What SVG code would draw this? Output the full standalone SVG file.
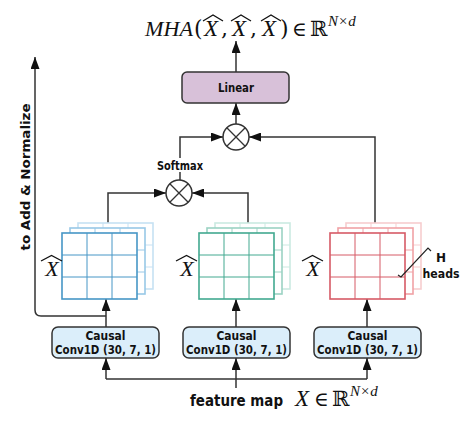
<svg xmlns="http://www.w3.org/2000/svg" width="474" height="424" viewBox="0 0 474 424">
<style>
.ln{fill:none;stroke:#333;stroke-width:1.5}
.lb{font-family:"DejaVu Sans",sans-serif;font-weight:bold;fill:#111}
.mx{font-family:"Liberation Serif",serif;font-style:italic;fill:#111}
.up{font-family:"DejaVu Serif","Liberation Serif",serif;fill:#111}
.hat{fill:none;stroke:#111;stroke-width:1.3}
.box{stroke:#333;stroke-width:1.5}
.cell{fill:#fff;stroke-width:1.6}
</style>
<defs>
<marker id="ah" viewBox="0 0 12 9" refX="12" refY="4.5" markerWidth="13" markerHeight="9" markerUnits="userSpaceOnUse" orient="auto">
<path d="M0,0 L12,4.5 L0,9 Z" fill="#111"/>
</marker>
<g id="grid">
<rect x="0" y="0" width="75" height="66" class="cell"/>
<path d="M25,0V66M50,0V66M0,22H75M0,44H75" fill="none"/>
</g>
</defs>
<rect width="474" height="424" fill="#fff"/>

<g id="title">
<text class="mx" x="145" y="36" font-size="22" textLength="48" lengthAdjust="spacingAndGlyphs">MHA</text>
<text class="up" x="194" y="36" font-size="22" font-family="Liberation Serif">(</text>
<text class="mx" x="204" y="36" font-size="23">X</text>
<text class="up" x="221" y="36" font-size="22" font-family="Liberation Serif">,</text>
<text class="mx" x="232" y="36" font-size="23">X</text>
<text class="up" x="250" y="36" font-size="22" font-family="Liberation Serif">,</text>
<text class="mx" x="262" y="36" font-size="23">X</text>
<text class="up" x="280" y="36" font-size="22" font-family="Liberation Serif">)</text>
<text class="up" x="292" y="36" font-size="20">∈</text>
<text class="up" x="310" y="36" font-size="21">ℝ</text>
<text class="mx" x="328" y="26" font-size="15">N×d</text>
<path class="hat" d="M203,21 L213,15 L223,21 M231,21 L241,15 L251,21 M261,21 L271,15 L281,21"/>
</g>

<g id="connectors">
<path class="ln" d="M236,72 V41" marker-end="url(#ah)"/>
<path class="ln" d="M236,124 V103" marker-end="url(#ah)"/>
<path class="ln" d="M180,158 V137 H223" marker-end="url(#ah)"/>
<path class="ln" d="M180,180 V172"/>
<path class="ln" d="M375,223 V137 H249" marker-end="url(#ah)"/>
<path class="ln" d="M108,223 V193 H166" marker-end="url(#ah)"/>
<path class="ln" d="M248,223 V193 H192" marker-end="url(#ah)"/>
<path class="ln" d="M106,327 V299" marker-end="url(#ah)"/>
<path class="ln" d="M236,327 V299" marker-end="url(#ah)"/>
<path class="ln" d="M367,327 V299" marker-end="url(#ah)"/>
<path class="ln" d="M106,316 H41 Q35,316 35,310 V57" marker-end="url(#ah)"/>
<path class="ln" d="M106,379 V358" marker-end="url(#ah)"/>
<path class="ln" d="M367,379 V358" marker-end="url(#ah)"/>
<path class="ln" d="M106,379 H367"/>
<path class="ln" d="M236,388 V358" marker-end="url(#ah)"/>
</g>

<g id="linear">
<rect class="box" x="182" y="72" width="107" height="31" rx="5" fill="#d8c1d9"/>
<text class="lb" x="236" y="92" font-size="12.5" text-anchor="middle" textLength="36" lengthAdjust="spacingAndGlyphs">Linear</text>
</g>

<g id="mul-top">
<circle cx="236" cy="137" r="13" fill="#fff" stroke="#333" stroke-width="1.5"/>
<path d="M226.8,127.8 L245.2,146.2 M245.2,127.8 L226.8,146.2" stroke="#333" stroke-width="1.3"/>
</g>
<g id="mul-bottom">
<circle cx="179" cy="193" r="13" fill="#fff" stroke="#333" stroke-width="1.5"/>
<path d="M169.8,183.8 L188.2,202.2 M188.2,183.8 L169.8,202.2" stroke="#333" stroke-width="1.3"/>
</g>
<text class="lb" x="180" y="170" font-size="12" text-anchor="middle" textLength="46" lengthAdjust="spacingAndGlyphs">Softmax</text>

<text class="lb" transform="translate(30,177) rotate(-90)" font-size="13" text-anchor="middle" textLength="147" lengthAdjust="spacingAndGlyphs">to Add &amp; Normalize</text>

<g id="q-matrix">
<use href="#grid" x="78" y="223" stroke="#c6e1f3"/>
<use href="#grid" x="70" y="228" stroke="#98c8e7"/>
<use href="#grid" x="62" y="233" stroke="#4696c6"/>
<text class="mx" x="52" y="276" font-size="22" text-anchor="middle">X</text>
<path class="hat" d="M41,261 L51.5,255.5 L62,261"/>
</g>
<g id="k-matrix">
<use href="#grid" x="215" y="223" stroke="#cbeae1"/>
<use href="#grid" x="207" y="228" stroke="#9bd3c3"/>
<use href="#grid" x="199" y="233" stroke="#42a990"/>
<text class="mx" x="187" y="276" font-size="22" text-anchor="middle">X</text>
<path class="hat" d="M176,261 L186.5,255.5 L197,261"/>
</g>
<g id="v-matrix">
<use href="#grid" x="346" y="223" stroke="#f7cdcf"/>
<use href="#grid" x="338" y="228" stroke="#f0a2a6"/>
<use href="#grid" x="330" y="233" stroke="#d65a66"/>
<text class="mx" x="313" y="276" font-size="22" text-anchor="middle">X</text>
<path class="hat" d="M302,261 L312.5,255.5 L323,261"/>
</g>
<g id="heads-label">
<path fill="none" stroke="#222" stroke-width="1.2" d="M398,275 L401,277 L428,248 L431,251"/>
<text class="lb" x="441" y="262" font-size="12" text-anchor="middle">H</text>
<text class="lb" x="441" y="278" font-size="12" text-anchor="middle" textLength="37" lengthAdjust="spacingAndGlyphs">heads</text>
</g>

<g id="conv-q">
<rect class="box" x="52" y="327" width="107" height="31" rx="6" fill="#dbeefa"/>
<text class="lb" x="105.5" y="340" font-size="12" text-anchor="middle" textLength="40" lengthAdjust="spacingAndGlyphs">Causal</text>
<text class="lb" x="105.5" y="354" font-size="12" text-anchor="middle" textLength="101" lengthAdjust="spacingAndGlyphs">Conv1D (30, 7, 1)</text>
</g>
<g id="conv-k">
<rect class="box" x="183" y="327" width="107" height="31" rx="6" fill="#dbeefa"/>
<text class="lb" x="236.5" y="340" font-size="12" text-anchor="middle" textLength="40" lengthAdjust="spacingAndGlyphs">Causal</text>
<text class="lb" x="236.5" y="354" font-size="12" text-anchor="middle" textLength="101" lengthAdjust="spacingAndGlyphs">Conv1D (30, 7, 1)</text>
</g>
<g id="conv-v">
<rect class="box" x="314" y="327" width="107" height="31" rx="6" fill="#dbeefa"/>
<text class="lb" x="367.5" y="340" font-size="12" text-anchor="middle" textLength="40" lengthAdjust="spacingAndGlyphs">Causal</text>
<text class="lb" x="367.5" y="354" font-size="12" text-anchor="middle" textLength="101" lengthAdjust="spacingAndGlyphs">Conv1D (30, 7, 1)</text>
</g>

<g id="input">
<text class="lb" x="190" y="406" font-size="15" textLength="93" lengthAdjust="spacingAndGlyphs">feature map</text>
<text class="mx" x="295" y="406" font-size="23">X</text>
<text class="up" x="314" y="406" font-size="20">∈</text>
<text class="up" x="332" y="406" font-size="21">ℝ</text>
<text class="mx" x="350" y="396" font-size="15">N×d</text>
</g>
</svg>
